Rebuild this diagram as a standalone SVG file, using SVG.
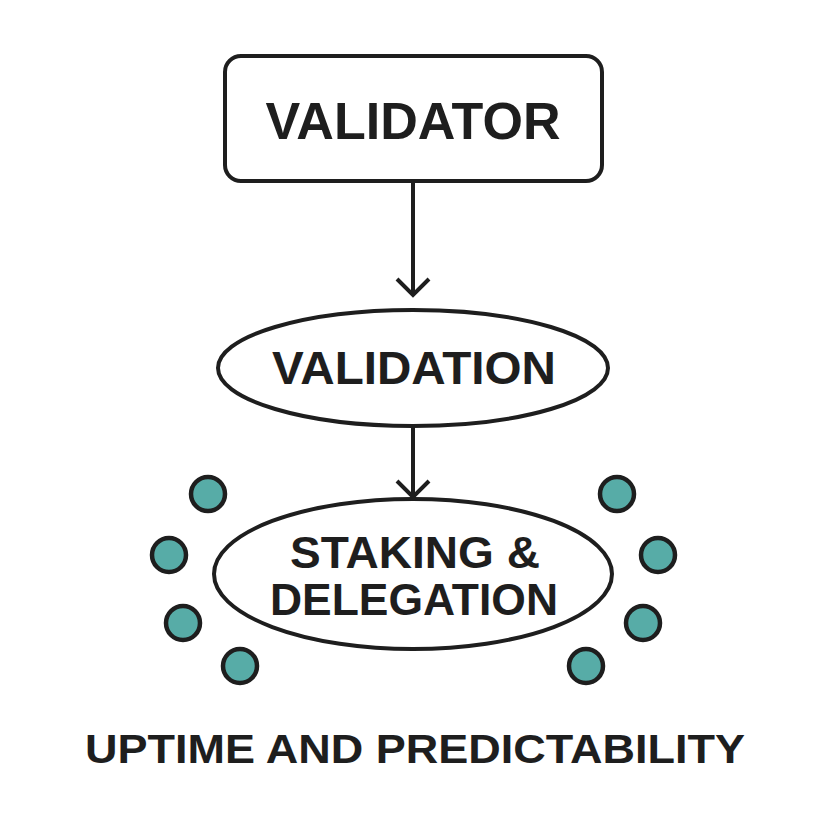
<svg xmlns="http://www.w3.org/2000/svg" width="828" height="828" viewBox="0 0 828 828">
<defs>
<style>
.shape{fill:#ffffff;stroke:#1e1e1e;stroke-width:4}
.lbl{font-family:"Liberation Sans","Arial",sans-serif;font-weight:bold;fill:#1e1e1e;text-anchor:middle}
.edge{stroke:#1e1e1e;stroke-width:4;fill:none}
.dot{fill:#57aca7;stroke:#1e1e1e;stroke-width:4.5}
</style>
</defs>
<rect width="828" height="828" fill="#ffffff"/>
<g id="edges">
<path class="edge" d="M413 181 V295"/>
<path class="edge" d="M397 279 L413 295 L429 279"/>
<path class="edge" d="M413 426 V497"/>
<path class="edge" d="M397 481 L413 497 L429 481"/>
</g>
<g id="validator">
<rect class="shape" x="225" y="56" width="377" height="125" rx="16"/>
<text class="lbl" x="413" y="139" font-size="52" textLength="295" lengthAdjust="spacingAndGlyphs">VALIDATOR</text>
</g>
<g id="validation">
<ellipse class="shape" cx="413" cy="368" rx="195" ry="58"/>
<text class="lbl" x="414" y="384" font-size="46" textLength="284" lengthAdjust="spacingAndGlyphs">VALIDATION</text>
</g>
<g id="staking">
<ellipse class="shape" cx="413" cy="574" rx="199" ry="75"/>
<text class="lbl" x="415" y="568" font-size="45" textLength="250" lengthAdjust="spacingAndGlyphs">STAKING &amp;</text>
<text class="lbl" x="414" y="615" font-size="45" textLength="288" lengthAdjust="spacingAndGlyphs">DELEGATION</text>
</g>
<g id="dots">
<circle class="dot" cx="208" cy="494" r="17"/>
<circle class="dot" cx="169" cy="555" r="17"/>
<circle class="dot" cx="183" cy="623" r="17"/>
<circle class="dot" cx="240" cy="666" r="17"/>
<circle class="dot" cx="617" cy="494" r="17"/>
<circle class="dot" cx="658" cy="555" r="17"/>
<circle class="dot" cx="643" cy="623" r="17"/>
<circle class="dot" cx="586" cy="666" r="17"/>
</g>
<g id="caption">
<text class="lbl" x="415" y="763" font-size="40" textLength="660" lengthAdjust="spacingAndGlyphs">UPTIME AND PREDICTABILITY</text>
</g>
</svg>
